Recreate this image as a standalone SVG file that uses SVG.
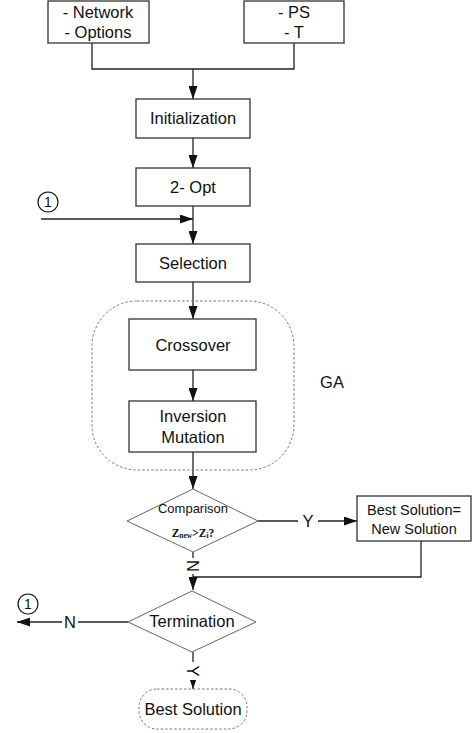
<svg xmlns="http://www.w3.org/2000/svg" width="474" height="733" viewBox="0 0 474 733">
<defs>
<style>
.box{fill:#fff;stroke:#333;stroke-width:1.3}
.dia{fill:#fff;stroke:#666;stroke-width:1}
.dash{fill:none;stroke:#777;stroke-width:1;stroke-dasharray:2.5 2}
.ln{fill:none;stroke:#222;stroke-width:1.3}
.t{font-family:"Liberation Sans",Arial,sans-serif;font-size:16.5px;fill:#111;text-anchor:middle}
.c{font-family:"Liberation Sans",Arial,sans-serif;font-size:13px;fill:#111;text-anchor:middle}
.s{font-size:14.5px}
</style>
<marker id="arL" viewBox="0 0 13 9" refX="13" refY="4.5" markerWidth="13" markerHeight="9" markerUnits="userSpaceOnUse" orient="auto"><path d="M0,0 L13,4.5 L0,9 z" fill="#111"/></marker>
</defs>
<rect width="474" height="733" fill="#fff"/>
<g id="connectors">
<path class="ln" d="M92,43 V69 H294 V43"/>
<path class="ln" d="M193,69 V99" marker-end="url(#arL)"/>
<path class="ln" d="M193,138 V168" marker-end="url(#arL)"/>
<path class="ln" d="M41,219 H193" marker-end="url(#arL)"/>
<path class="ln" d="M193,206 V244" marker-end="url(#arL)"/>
<path class="ln" d="M193,282 V319" marker-end="url(#arL)"/>
<path class="ln" d="M193,370 V401" marker-end="url(#arL)"/>
<path class="ln" d="M193,452 V489" marker-end="url(#arL)"/>
<path class="ln" d="M258,521 H357" marker-end="url(#arL)"/>
<path class="ln" d="M421,541 V577 H193"/>
<path class="ln" d="M193,552 V590" marker-end="url(#arL)"/>
<path class="ln" d="M128,622 H17" marker-end="url(#arL)"/>
<path class="ln" d="M193,652 V689" marker-end="url(#arL)"/>
<rect x="298" y="512" width="20" height="18" fill="#fff"/>
<text class="t" x="308" y="527">Y</text>
<rect x="185" y="558" width="16" height="16" fill="#fff"/>
<text class="t" transform="translate(187,566) rotate(90)">N</text>
<rect x="62" y="613" width="16" height="18" fill="#fff"/>
<text class="t" x="70" y="628">N</text>
<rect x="185" y="662" width="16" height="18" fill="#fff"/>
<text class="t" transform="translate(187,671) rotate(90)">Y</text>
<circle cx="48" cy="202" r="10" fill="#fff" stroke="#111" stroke-width="1.2"/>
<text class="t" x="48" y="207" style="font-size:14px">1</text>
<circle cx="28" cy="604" r="10" fill="#fff" stroke="#111" stroke-width="1.2"/>
<text class="t" x="28" y="609" style="font-size:14px">1</text>
</g>
<g id="ga">
<rect class="dash" x="92" y="301" width="202" height="169" rx="45" ry="45"/>
<text class="t" x="332" y="388">GA</text>
</g>
<g id="network">
<rect class="box" x="48" y="1" width="101" height="42"/>
<text class="t" x="98" y="18">- Network</text>
<text class="t" x="98" y="38">- Options</text>
</g>
<g id="ps">
<rect class="box" x="244" y="1" width="100" height="42"/>
<text class="t" x="294" y="18">- PS</text>
<text class="t" x="294" y="38">- T</text>
</g>
<g id="init">
<rect class="box" x="136" y="99" width="114" height="39"/>
<text class="t" x="193" y="124">Initialization</text>
</g>
<g id="opt">
<rect class="box" x="136" y="168" width="114" height="38"/>
<text class="t" x="193" y="193">2- Opt</text>
</g>
<g id="selection">
<rect class="box" x="136" y="244" width="114" height="38"/>
<text class="t" x="193" y="269">Selection</text>
</g>
<g id="crossover">
<rect class="box" x="129" y="319" width="127" height="51"/>
<text class="t" x="193" y="351">Crossover</text>
</g>
<g id="mutation">
<rect class="box" x="129" y="401" width="127" height="51"/>
<text class="t" x="193" y="422">Inversion</text>
<text class="t" x="193" y="443">Mutation</text>
</g>
<g id="comparison">
<polygon class="dia" points="193,489 258,521 193,552 127,521"/>
<text class="c" x="193" y="513">Comparison</text>
<text x="193" y="537" style="font-family:'Liberation Serif',serif;font-size:11.5px;font-weight:bold;fill:#111;text-anchor:middle">Z<tspan font-size="7.5" dy="1">new</tspan><tspan dy="-1">&gt;Z</tspan><tspan font-size="7.5" dy="1">i</tspan><tspan dy="-1">?</tspan></text>
</g>
<g id="newbest">
<rect class="box" x="357" y="496" width="114" height="45"/>
<text class="c s" x="414" y="515">Best Solution=</text>
<text class="c s" x="414" y="534">New Solution</text>
</g>
<g id="termination">
<polygon class="dia" points="192,591 256,622 192,652 128,622"/>
<text class="t" x="192" y="627">Termination</text>
</g>
<g id="best">
<rect class="dash" x="139" y="689" width="108" height="40" rx="18" ry="18" style="fill:#fff"/>
<text class="t" x="193" y="715">Best Solution</text>
</g>
</svg>
